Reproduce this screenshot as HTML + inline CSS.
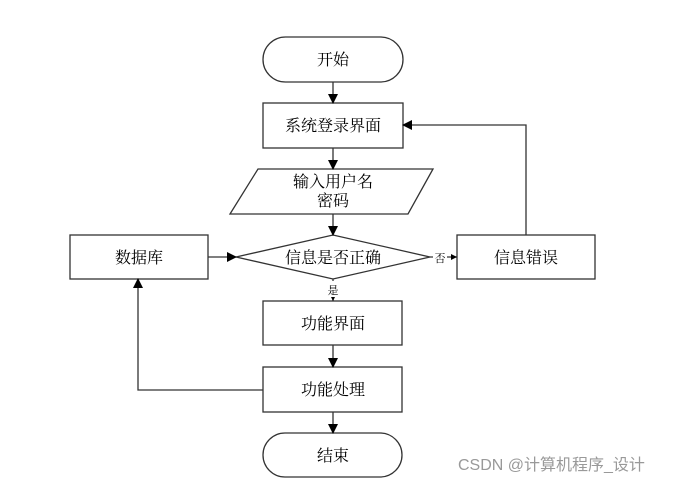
<!DOCTYPE html>
<html><head><meta charset="utf-8"><style>
html,body{margin:0;padding:0;background:#fff;width:695px;height:482px;overflow:hidden}
svg{display:block}
text{font-family:"Liberation Serif","Noto Serif CJK SC","Noto Sans CJK SC",serif;fill:#000}
</style></head><body>
<svg width="695" height="482" viewBox="0 0 695 482" xmlns="http://www.w3.org/2000/svg">
<defs><marker id="a" markerWidth="10" markerHeight="10" refX="9" refY="5" orient="auto" markerUnits="userSpaceOnUse"><path d="M0,0 L10,5 L0,10 z" fill="#000"/></marker>
<marker id="s" markerWidth="6" markerHeight="6" refX="6" refY="3" orient="auto" markerUnits="userSpaceOnUse"><path d="M0,0 L6,3 L0,6 z" fill="#000"/></marker></defs>
<g fill="#fff" stroke="#333" stroke-width="1.3">
<rect x="263" y="37" width="140" height="45" rx="22.5"/>
<rect x="263" y="103" width="140" height="45"/>
<polygon points="258,169 433,169 408,214 230,214"/>
<polygon points="236,257 333,235 430,257 333,279"/>
<rect x="457" y="235" width="138" height="44"/>
<rect x="70" y="235" width="138" height="44"/>
<rect x="263" y="301" width="139" height="44"/>
<rect x="263" y="367" width="139" height="45"/>
<rect x="263" y="433" width="139" height="44" rx="22"/>
</g>
<g stroke="#333" stroke-width="1.3" fill="none">
<line x1="333" y1="82" x2="333" y2="103" marker-end="url(#a)"/>
<line x1="333" y1="148" x2="333" y2="169" marker-end="url(#a)"/>
<line x1="333" y1="214" x2="333" y2="235" marker-end="url(#a)"/>
<line x1="208" y1="257" x2="236" y2="257" marker-end="url(#a)"/>
<line x1="430" y1="257" x2="457" y2="257" marker-end="url(#s)"/>
<polyline points="526,235 526,125 403,125" marker-end="url(#a)"/>
<line x1="333" y1="279" x2="333" y2="301" stroke-dasharray="2,2" marker-end="url(#s)"/>
<line x1="333" y1="345" x2="333" y2="367" marker-end="url(#a)"/>
<line x1="333" y1="412" x2="333" y2="433" marker-end="url(#a)"/>
<polyline points="263,390 138,390 138,279" marker-end="url(#a)"/>
</g>
<rect x="433" y="250" width="14" height="14" fill="#fff"/>
<rect x="326" y="283" width="14" height="14" fill="#fff"/>
<g font-size="16" text-anchor="middle">
<text x="333" y="65">开始</text>
<text x="333" y="131">系统登录界面</text>
<text x="333" y="187">输入用户名</text>
<text x="333" y="206">密码</text>
<text x="333" y="263">信息是否正确</text>
<text x="526" y="263">信息错误</text>
<text x="139" y="263">数据库</text>
<text x="333" y="329">功能界面</text>
<text x="333" y="395">功能处理</text>
<text x="333" y="461">结束</text>
</g>
<text x="440" y="262" font-size="11" text-anchor="middle">否</text>
<text x="333" y="294" font-size="11" text-anchor="middle">是</text>
<text x="458" y="470" font-size="16" style="font-family:'Liberation Sans','Noto Sans CJK SC',sans-serif;fill:#999">CSDN @计算机程序_设计</text>
</svg>
</body></html>
